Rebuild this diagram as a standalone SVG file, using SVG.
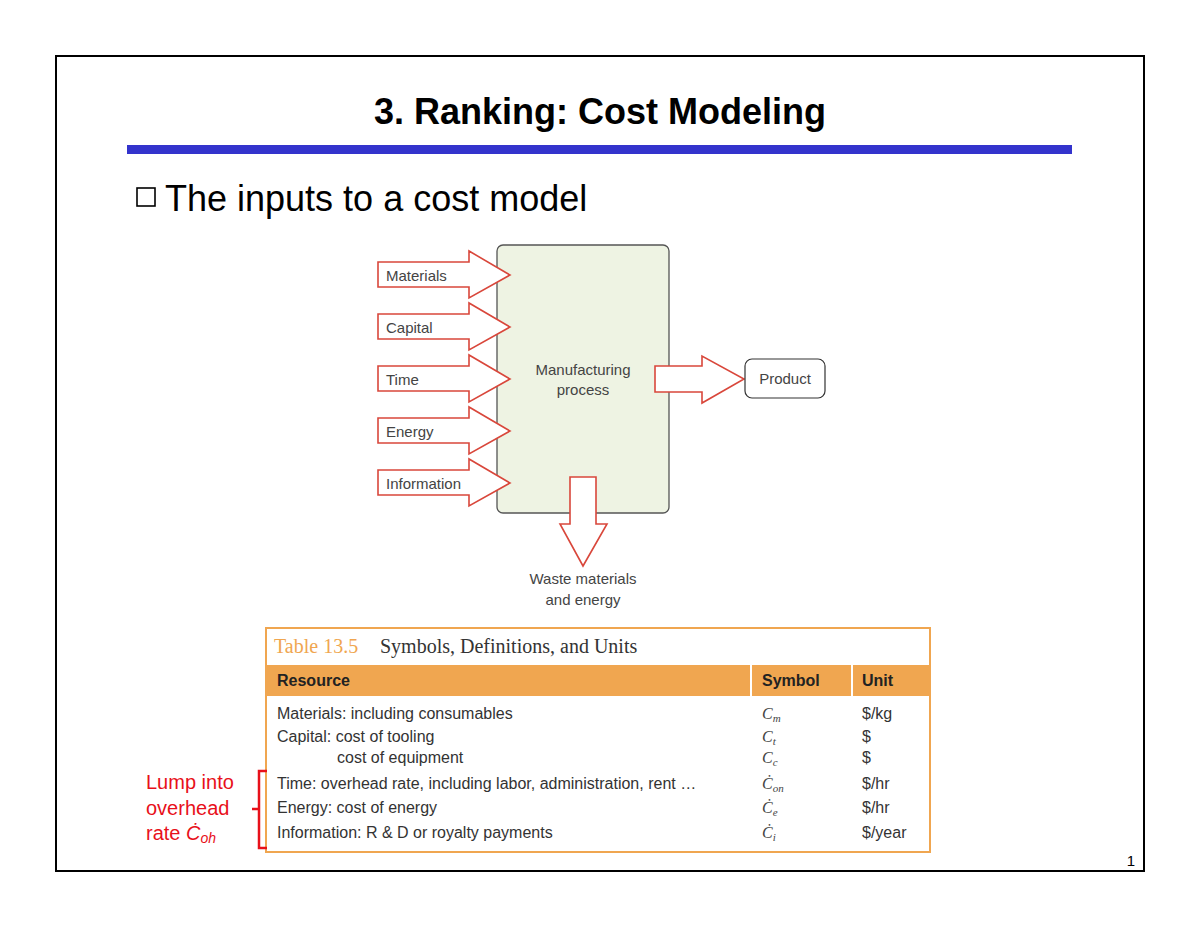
<svg xmlns="http://www.w3.org/2000/svg" width="1200" height="927" viewBox="0 0 1200 927">
<style>
.t{font-family:"Liberation Sans",Arial,sans-serif}
.arr{fill:#fff;stroke:#d9473b;stroke-width:1.6}
.d{font-family:"Liberation Sans",Arial,sans-serif;font-size:16px;fill:#333}
.c{font-family:"Liberation Sans",Arial,sans-serif;font-size:15px;fill:#444}
.s{font-family:"Liberation Serif",serif;font-style:italic;font-size:16px;fill:#444}
.r{font-family:"Liberation Sans",Arial,sans-serif;font-size:20px;fill:#e8101a}
</style>
<rect width="1200" height="927" fill="#fff"/>
<rect x="56" y="56" width="1088" height="815" fill="none" stroke="#000" stroke-width="2"/>
<text class="t" x="600" y="124" text-anchor="middle" font-size="36" font-weight="bold">3. Ranking: Cost Modeling</text>
<rect x="127" y="145" width="945" height="9" fill="#3333cc"/>
<rect x="137" y="188" width="18" height="18" fill="none" stroke="#000" stroke-width="1.6"/>
<text class="t" x="165" y="211" font-size="36">The inputs to a cost model</text>
<g id="process"><rect x="497" y="245" width="172" height="268" rx="6" fill="#eef3e3" stroke="#555" stroke-width="1.3"/>
<text class="c" x="583" y="375" text-anchor="middle">Manufacturing</text><text class="c" x="583" y="395" text-anchor="middle">process</text></g>
<g id="connectors">
<g id="in-materials"><path class="arr" d="M378 262H469V251L510 275L469 298V287H378Z"/><text class="c" x="386" y="281">Materials</text></g>
<g id="in-capital"><path class="arr" d="M378 314H469V303L510 327L469 350V339H378Z"/><text class="c" x="386" y="333">Capital</text></g>
<g id="in-time"><path class="arr" d="M378 366H469V355L510 379L469 402V391H378Z"/><text class="c" x="386" y="385">Time</text></g>
<g id="in-energy"><path class="arr" d="M378 418H469V407L510 431L469 454V443H378Z"/><text class="c" x="386" y="437">Energy</text></g>
<g id="in-information"><path class="arr" d="M378 470H469V459L510 483L469 506V495H378Z"/><text class="c" x="386" y="489">Information</text></g>
<path class="arr" d="M655 366H702V356L744 379L702 403V392H655Z"/>
<path class="arr" d="M570 477H596V524H607L583 566L560 524H570Z"/>
</g>
<g id="product"><rect x="745" y="359" width="80" height="39" rx="7" fill="#fff" stroke="#333" stroke-width="1.2"/><text class="c" x="785" y="384" text-anchor="middle">Product</text></g>
<g id="waste"><text class="c" x="583" y="584" text-anchor="middle">Waste materials</text><text class="c" x="583" y="605" text-anchor="middle">and energy</text></g>
<g id="table">
<rect x="266" y="628" width="664" height="224" fill="#fff" stroke="#f0a650" stroke-width="2"/>
<text x="274" y="653" font-family="Liberation Serif,serif" font-size="20" fill="#f0a650">Table 13.5</text>
<text x="380" y="653" font-family="Liberation Serif,serif" font-size="20" fill="#333">Symbols, Definitions, and Units</text>
<rect x="266" y="665" width="664" height="31" fill="#f0a650"/>
<rect x="750" y="665" width="2" height="31" fill="#fff"/><rect x="851" y="665" width="2" height="31" fill="#fff"/>
<text class="t" x="277" y="686" font-size="16" font-weight="bold" fill="#222">Resource</text>
<text class="t" x="762" y="686" font-size="16" font-weight="bold" fill="#222">Symbol</text>
<text class="t" x="862" y="686" font-size="16" font-weight="bold" fill="#222">Unit</text>
<text class="d" x="277" y="719">Materials: including consumables</text>
<text class="d" x="277" y="742">Capital: cost of tooling</text>
<text class="d" x="337" y="763">cost of equipment</text>
<text class="d" x="277" y="789">Time: overhead rate, including labor, administration, rent …</text>
<text class="d" x="277" y="813">Energy: cost of energy</text>
<text class="d" x="277" y="838">Information: R &amp; D or royalty payments</text>
<text class="s" x="762" y="719">C<tspan font-size="11" dy="3">m</tspan></text>
<text class="s" x="762" y="742">C<tspan font-size="11" dy="3">t</tspan></text>
<text class="s" x="762" y="763">C<tspan font-size="11" dy="3">c</tspan></text>
<text class="s" x="762" y="789">Ċ<tspan font-size="11" dy="3">on</tspan></text>
<text class="s" x="762" y="813">Ċ<tspan font-size="11" dy="3">e</tspan></text>
<text class="s" x="762" y="838">Ċ<tspan font-size="11" dy="3">i</tspan></text>
<text class="d" x="862" y="719">$/kg</text><text class="d" x="862" y="742">$</text><text class="d" x="862" y="763">$</text>
<text class="d" x="862" y="789">$/hr</text><text class="d" x="862" y="813">$/hr</text><text class="d" x="862" y="838">$/year</text>
</g>
<g id="note">
<path d="M267 771H259V848H267M259 809H252" fill="none" stroke="#e8101a" stroke-width="2.5"/>
<text class="r" x="146" y="789">Lump into</text>
<text class="r" x="146" y="815">overhead</text>
<text class="r" x="146" y="840">rate <tspan font-style="italic">Ċ</tspan><tspan font-style="italic" font-size="14" dy="3">oh</tspan></text>
</g>
<text class="t" x="1135" y="866" font-size="15" text-anchor="end">1</text>
</svg>
